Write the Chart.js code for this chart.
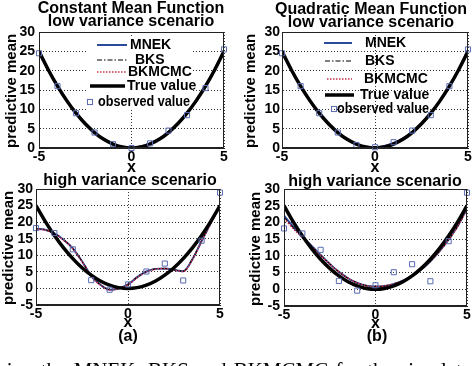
<!DOCTYPE html>
<html>
<head>
<meta charset="utf-8">
<script src="https://cdn.jsdelivr.net/npm/chart.js@4.4.0/dist/chart.umd.min.js"></script>
<style>
body{margin:0;background:#fff;width:474px;height:366px;overflow:hidden;position:relative;font-family:"Liberation Sans",Arial,sans-serif}
canvas{position:absolute}
.t{position:absolute;font-weight:bold;font-size:16px;line-height:13.4px;white-space:nowrap;transform:translateX(-50%);color:#000;text-align:center;z-index:2}
.cap{position:absolute;left:-12px;top:360px;font-family:"Liberation Serif","Times New Roman",serif;font-size:21px;line-height:21px;white-space:nowrap;word-spacing:2px;z-index:2}
</style>
</head>
<body>
<canvas id="cTL" width="237" height="180" style="left:0;top:0"></canvas>
<canvas id="cTR" width="237" height="180" style="left:237px;top:0"></canvas>
<canvas id="cBL" width="237" height="180" style="left:0;top:170px"></canvas>
<canvas id="cBR" width="237" height="180" style="left:237px;top:170px"></canvas>

<div class="t" style="left:131px;top:1px">Constant Mean Function<br>low variance scenario</div>
<div class="t" style="left:371px;top:2px">Quadratic Mean Function<br>low variance scenario</div>
<div class="t" style="left:130px;top:173px">high variance scenario</div>
<div class="t" style="left:375px;top:174px">high variance scenario</div>
<div class="t" style="left:128px;top:329px">(a)</div>
<div class="t" style="left:377px;top:329px">(b)</div>
<div class="cap">using the MNEK, BKS and BKMCMC for the simulated</div>

<script>
// x positions of the predictive curves
var xs = [-5,-4.5,-4,-3.5,-3,-2.5,-2,-1.5,-1,-0.5,0,0.5,1,1.5,2,2.5,3,3.5,4,4.5,5];
var trueVal = [25,20.25,16,12.25,9,6.25,4,2.25,1,0.25,0,0.25,1,2.25,4,6.25,9,12.25,16,20.25,25];

// observed values
var obsX = [-5,-4,-3,-2,-1,0,1,2,3,4,5];
var obsLowA = [24.5,16,9,4,1,0,1.2,4.5,8.5,15.5,25.5];
var obsLowB = [24.5,16,9,4,0.8,0.2,1.5,4.5,8.5,16,25.5];
var obsHigh = [18.2,16.7,11.8,2.5,-0.4,1.2,5.1,7.5,2.4,14.4,28.9];

// predictive means, low variance
var lowA = [24.6,20.1,16,12.2,9,6.2,4,2.2,1,0.3,0.1,0.4,1.2,2.4,4.2,6.3,9,12.2,15.8,20.2,25.3];
var lowB = [24.6,20.2,16,12.2,9,6.2,4,2.2,0.9,0.3,0.2,0.5,1.3,2.5,4.2,6.4,9,12.2,16,20.3,25.4];

// predictive means, high variance (a) constant mean
var highA_mnek   = [18,17.7,16.6,14.7,12.1,8.2,3.8,1.1,-0.4,0,1.2,3.4,5.1,5.9,6,5.6,5.2,8.8,14.3,19.8,25.2];
var highA_bks    = [18,17.7,16.6,14.7,12.1,8.2,3.8,1.1,-0.4,0,1.2,3.4,5.1,5.9,6,5.6,5.2,8.8,14.3,19.8,25.2];
var highA_bkmcmc = [17.9,17.6,16.5,14.6,12,8.1,3.7,1,-0.5,0,1.1,3.3,5,5.8,6,5.5,5.1,8.7,14.2,19.6,25];

// predictive means, high variance (b) quadratic mean
var highB_mnek   = [22,18.7,15.8,13,10.3,7.6,5.2,3.3,1.9,1.1,0.8,1,1.6,2.6,4,5.9,8.4,11.4,14.9,19,24.2];
var highB_bks    = [21.6,18.5,15.7,12.9,10.2,7.6,5.2,3.3,1.9,1.1,0.8,1,1.6,2.6,4,5.9,8.4,11.4,14.9,19,24.2];
var highB_bkmcmc = [21.2,18.2,15.5,12.8,10.1,7.5,5.2,3.3,1.9,1.1,0.8,1,1.6,2.6,4,5.9,8.4,11.4,14.9,18.9,24];

var FONT = '"Liberation Sans", Arial, sans-serif';

function pts(x, y){
	var out = [];
	for (var i = 0; i < x.length; i++) out.push({x: x[i], y: y[i]});
	return out;
}

// legend drawn inside the plot area, under the curves
var boxLegend = {
	id: 'boxLegend',
	beforeDatasetsDraw: function(chart, args, opt){
		if (!opt || !opt.rows) return;
		var ctx = chart.ctx, a = chart.chartArea;
		ctx.save();
		if (opt.box) {
			ctx.fillStyle = '#fff';
			ctx.fillRect(a.left + opt.box[0], a.top + opt.box[1], opt.box[2], opt.box[3]);
		}
		ctx.font = 'bold 14px ' + FONT;
		ctx.textBaseline = 'middle';
		ctx.textAlign = 'left';
		chart.data.datasets.forEach(function(ds, i){
			var y = a.top + opt.rows[i];
			if (ds.showLine) {
				ctx.strokeStyle = ds.borderColor;
				ctx.lineWidth = ds.borderWidth;
				ctx.setLineDash(ds.borderDash || []);
				ctx.beginPath();
				ctx.moveTo(a.left + opt.from[i], y);
				ctx.lineTo(a.left + opt.to[i], y);
				ctx.stroke();
			} else {
				ctx.setLineDash([]);
				ctx.strokeStyle = ds.borderColor;
				ctx.lineWidth = 1;
				var s = ds.pointRadius * Math.SQRT1_2;
				ctx.strokeRect(a.left + opt.from[i] - s, y - s, 2 * s, 2 * s);
			}
			ctx.fillStyle = '#000';
			if (opt.fit && opt.fit[i]) ctx.fillText(ds.label, a.left + opt.text[i], y, opt.fit[i]);
			else ctx.fillText(ds.label, a.left + opt.text[i], y);
		});
		ctx.restore();
	}
};

var frame = {
	id: 'frame',
	afterDatasetsDraw: function(chart){
		var ctx = chart.ctx, a = chart.chartArea;
		var l = Math.round(a.left) + 0.5, t = Math.round(a.top) + 0.5;
		var r = Math.round(a.right) - 0.5, b = Math.round(a.bottom) - 0.5;
		ctx.save();
		ctx.strokeStyle = '#222';
		ctx.lineWidth = 1;
		ctx.setLineDash([]);
		ctx.strokeRect(l, t, r - l, b - t);
		ctx.restore();
	}
};

function makeChart(id, o){
	var datasets = [
		{label:'MNEK', data:pts(xs, o.mnek), showLine:true, borderColor:'#2b4c9e', borderWidth:2, pointRadius:0, order:5},
		{label:'BKS', data:pts(xs, o.bks), showLine:true, borderColor:'#000', borderWidth:1.2, borderDash:[5,2,1.5,2], pointRadius:0, order:4},
		{label:'BKMCMC', data:pts(xs, o.bkmcmc), showLine:true, borderColor:'#c8304a', borderWidth:1.6, borderDash:[1.5,1.5], pointRadius:0, order:3},
		{label:'True value', data:pts(xs, trueVal), showLine:true, borderColor:'#000', borderWidth:3.5, pointRadius:0, order:2},
		{label:'observed value', data:pts(obsX, o.obs), showLine:false, pointStyle:'rect', pointRadius:3.6, borderColor:'#5a6bb0', borderWidth:1, backgroundColor:'rgba(0,0,0,0)', order:1, clip:false}
	];
	datasets.forEach(function(d){ if (d.showLine) d.cubicInterpolationMode = 'monotone'; });

	return new Chart(document.getElementById(id), {
		type: 'scatter',
		data: {datasets: datasets},
		plugins: [boxLegend, frame],
		options: {
			responsive: false,
			animation: false,
			events: [],
			layout: {padding: o.pad},
			plugins: {
				legend: {display: false},
				tooltip: {enabled: false},
				boxLegend: o.legend || {}
			},
			scales: {
				x: {
					type: 'linear', min: -5, max: 5,
					ticks: {stepSize: 5, autoSkip: false, color: '#000', padding: 1, maxRotation: 0, font: {family: FONT, size: 14, weight: 'bold'}},
					grid: {color: '#333', lineWidth: 1, drawTicks: false},
					border: {display: true, color: '#222', dash: [1,2]},
					title: {display: true, text: 'x', color: '#000', padding: {top: 0, bottom: o.xtPad}, font: {family: FONT, size: 16, weight: 'bold', lineHeight: 1}},
					afterFit: function(s){ s.height = 26; }
				},
				y: {
					type: 'linear', min: o.ymin, max: 30,
					ticks: {stepSize: 5, autoSkip: false, color: '#000', padding: o.ytick, font: {family: FONT, size: 14, weight: 'bold'}},
					grid: {color: '#333', lineWidth: 1, drawTicks: false},
					border: {display: true, color: '#222', dash: [1,2]},
					title: {display: true, text: 'predictive mean', align: 'start', color: '#000', padding: {top: o.ytPad, bottom: 0}, font: {family: FONT, size: 15, weight: 'bold', lineHeight: 1}},
					afterFit: function(s){ s.width = o.yw; }
				}
			}
		}
	});
}

makeChart('cTL', {
	mnek: lowA, bks: lowA, bkmcmc: lowA, obs: obsLowA, ymin: 0,
	pad: {left: 0, top: 32, right: 13, bottom: 6}, yw: 39, ytick: 4, ytPad: 4, xtPad: -2,
	legend: {
		rows: [13, 28, 40, 54, 70],
		from: [58, 58, 58, 51, 51],
		to:   [88, 88, 88, 86, 0],
		text: [91, 96, 89, 88, 59],
		fit:  [0, 0, 0, 0, 92],
		box:  [49, 6, 104, 72]
	}
});

makeChart('cTR', {
	mnek: lowB, bks: lowB, bkmcmc: lowB, obs: obsLowB, ymin: 0,
	pad: {left: 0, top: 32, right: 6, bottom: 6}, yw: 45, ytick: 2, ytPad: 6, xtPad: -2,
	legend: {
		rows: [11, 29, 47, 63, 77],
		from: [42, 43, 45, 43, 52],
		to:   [70, 70, 70, 72, 0],
		text: [83, 83, 82, 78, 55],
		fit:  [0, 0, 0, 0, 92]
	}
});

makeChart('cBL', {
	mnek: highA_mnek, bks: highA_bks, bkmcmc: highA_bkmcmc, obs: obsHigh, ymin: -5,
	pad: {left: 0, top: 19, right: 17, bottom: 19}, yw: 36, ytick: 3, ytPad: 1, xtPad: 0
});

makeChart('cBR', {
	mnek: highB_mnek, bks: highB_bks, bkmcmc: highB_bkmcmc, obs: obsHigh, ymin: -5,
	pad: {left: 0, top: 19, right: 7, bottom: 18}, yw: 47, ytick: 4, ytPad: 11, xtPad: 0
});
</script>
</body>
</html>
